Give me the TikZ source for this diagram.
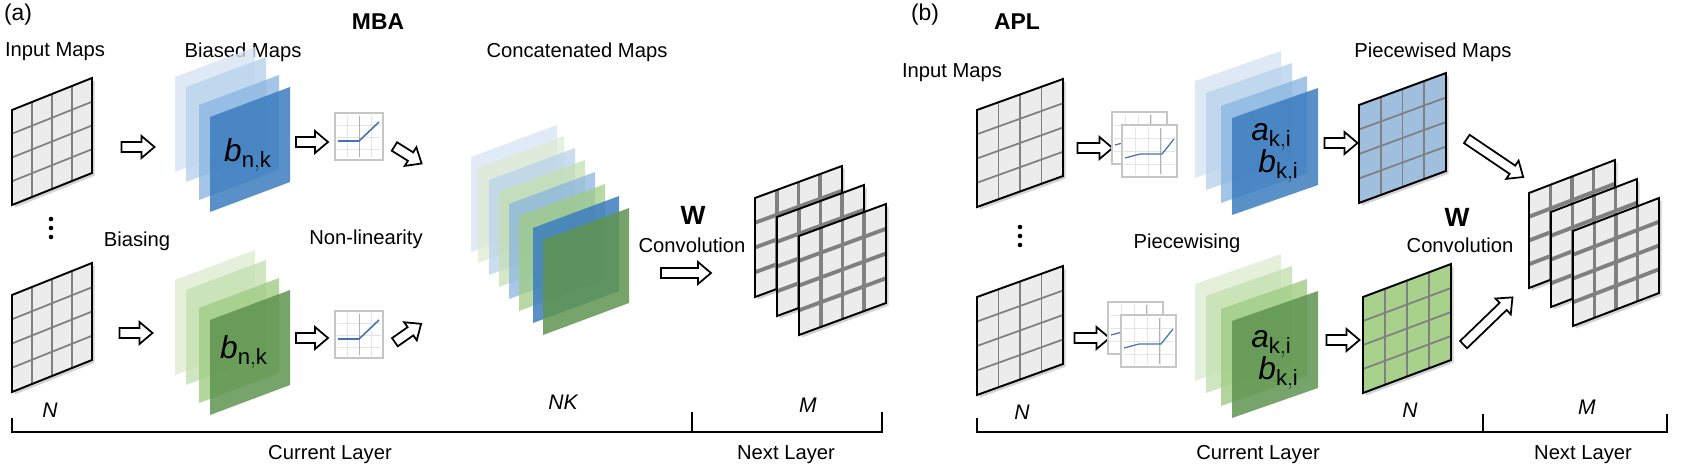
\documentclass[tikz,border=0pt]{standalone}
\usepackage{fontspec}
\setmainfont{Liberation Sans}
\usetikzlibrary{shadows}
\definecolor{gridfill}{RGB}{236,236,236}
\definecolor{bluefill}{RGB}{160,190,222}
\definecolor{greenfill}{RGB}{168,210,140}
\definecolor{blA}{RGB}{215,228,244}
\definecolor{blB}{RGB}{185,210,236}
\definecolor{blC}{RGB}{140,182,225}
\definecolor{blD}{RGB}{60,125,190}
\definecolor{grA}{RGB}{222,236,210}
\definecolor{grB}{RGB}{196,224,176}
\definecolor{grC}{RGB}{160,204,132}
\definecolor{grD}{RGB}{95,148,80}
\definecolor{plotblue}{RGB}{70,115,180}

% parallelogram: x, y (bottom-left, px), width, height, slant, style
\newcommand{\pgon}[6]{\path[#6] (#1,#2) -- ++(0,-#4) -- ++(#3,-#5) -- ++(0,#4) -- cycle;}
% grid map: x, y, w, h, s, fill, grid line width
\newcommand{\gmap}[7]{%
  \pgon{#1}{#2}{#3}{#4}{#5}{fill=#6, drop shadow={opacity=0.35,shadow xshift=1.5pt,shadow yshift=-1.5pt}}
  \foreach \t in {0.25,0.5,0.75}{
    \draw[gray, line width=#7] (#1+\t*#3,#2-\t*#5) -- ++(0,-#4);
    \draw[gray, line width=#7] (#1,#2-\t*#4) -- ++(#3,-#5);
  }
  \pgon{#1}{#2}{#3}{#4}{#5}{draw=black, line width=1.1pt, line join=miter}}
% relu plot: top-left x, y
\newcommand{\reluplot}[2]{%
  \path[fill=white, draw=gray!45, line width=1.2pt] (#1,#2) rectangle ++(48,47);
  \foreach \u in {12,24,36}{\draw[gray!20, line width=0.3pt] (#1+\u,#2+2) -- ++(0,43); \draw[gray!20, line width=0.3pt] (#1+2,#2+\u) -- ++(44,0);}
  \draw[gray!60, line width=0.3pt] (#1+24,#2+3) -- ++(0,41);
  \draw[plotblue, line width=0.9pt] (#1+3,#2+28) -- (#1+24,#2+28) -- (#1+44,#2+9);}
% piecewise plot: top-left x, y
\newcommand{\pwplot}[2]{%
  \path[fill=white, draw=gray!45, line width=1.2pt] (#1,#2) rectangle ++(55,52);
  \foreach \u in {13,26,39}{\draw[gray!20, line width=0.3pt] (#1+\u,#2+2) -- ++(0,48); \draw[gray!20, line width=0.3pt] (#1+2,#2+\u) -- ++(51,0);}
  \draw[gray!60, line width=0.3pt] (#1+38,#2+3) -- ++(0,46);
  \draw[plotblue, line width=0.7pt] (#1+3,#2+33) -- (#1+18,#2+29) -- (#1+40,#2+29) -- (#1+52,#2+14);}
% hollow block arrow: name, centre x, y, angle, length
\newcommand{\harr}[5]{%
  \coordinate (#1) at (#2,#3);
  \begin{scope}[shift={(#1)}, rotate=#4]
    \draw[harrow] (-#5/2,-5) -- (#5/2-13,-5) -- (#5/2-13,-11) -- (#5/2,0) -- (#5/2-13,11)
      -- (#5/2-13,5) -- (-#5/2,5) -- cycle;
  \end{scope}}
% vertical dots
\newcommand{\vdot}[3]{\foreach \k in {0,1,2}{\fill (#2,#3+\k*9) circle (2.3);}\coordinate (#1) at (#2,#3+9);}

\tikzset{
  lbl/.style={inner sep=0pt, font=\fontsize{11.5}{13}\selectfont},
  ital/.style={inner sep=0pt, font=\fontsize{12}{13}\selectfont\itshape},
  ttl/.style={inner sep=0pt, font=\fontsize{13}{15}\selectfont\bfseries},
  wlbl/.style={inner sep=0pt, font=\fontsize{15}{16}\selectfont\bfseries},
  coef/.style={inner sep=0pt, font=\fontsize{18}{19}\selectfont, align=left},
  harrow/.style={draw=black, fill=white, line width=1pt, line join=miter},
  brk/.style={line width=1pt},
}

\begin{document}
\begin{tikzpicture}[x=0.02cm, y=-0.02cm]
\useasboundingbox (0,0) rectangle (1683,470);

% ================= (a) MBA =================
\node[lbl, font=\fontsize{13}{15}\selectfont] (la) at (18,15) {(a)};
\node[ttl] (mba) at (378,22) {MBA};
\node[lbl] (inA) at (55,52) {Input Maps};
\node[lbl] (biasedA) at (243,52) {Biased Maps};
\node[lbl] (concA) at (577,52) {Concatenated Maps};

\gmap{12}{205}{80}{95}{32}{gridfill}{1pt}
\gmap{12}{392}{80}{97}{32}{gridfill}{1pt}
\vdot{dotsA}{51}{219}

% biased stacks
\pgon{175}{172}{80}{95}{30}{fill=blA, fill opacity=0.8}
\pgon{186}{182}{80}{95}{30}{fill=blB, fill opacity=0.8}
\pgon{199}{200}{80}{95}{30}{fill=blC, fill opacity=0.8}
\pgon{210}{212}{80}{95}{30}{fill=blD, fill opacity=0.85}
\pgon{175}{375}{80}{95}{30}{fill=grA, fill opacity=0.8}
\pgon{186}{385}{80}{95}{30}{fill=grB, fill opacity=0.8}
\pgon{199}{403}{80}{95}{30}{fill=grC, fill opacity=0.8}
\pgon{210}{415}{80}{95}{30}{fill=grD, fill opacity=0.85}
\node[coef] (bA1) at (248,155) {$\mathit{b}_{\mathrm{n,k}}$};
\node[coef] (bA2) at (244,352) {$\mathit{b}_{\mathrm{n,k}}$};

\reluplot{335}{113}
\reluplot{335}{311}

\node[lbl] (biasing) at (137,241) {Biasing};
\node[lbl] (nonlin) at (366,239) {Non-linearity};

\harr{a1}{138}{147}{0}{33}
\harr{a2}{136}{333}{0}{33}
\harr{a3}{312}{142}{0}{32}
\harr{a4}{312}{338}{0}{32}
\harr{a5}{408}{155}{-32}{32}
\harr{a6}{408}{333}{35}{32}

% concatenated stack
\pgon{471}{252}{86}{95}{32}{fill=blA, fill opacity=0.75}
\pgon{478}{263}{86}{95}{32}{fill=grA, fill opacity=0.75}
\pgon{489}{275}{86}{95}{32}{fill=blB, fill opacity=0.75}
\pgon{499}{287}{86}{95}{32}{fill=grB, fill opacity=0.75}
\pgon{509}{299}{86}{95}{32}{fill=blC, fill opacity=0.75}
\pgon{519}{311}{86}{95}{32}{fill=grC, fill opacity=0.75}
\pgon{533}{323}{86}{95}{32}{fill=blD, fill opacity=0.85}
\pgon{543}{335}{86}{95}{32}{fill=grD, fill opacity=0.85}

\node[wlbl] (wA) at (693,215) {W};
\node[lbl] (convA) at (692,245) {Convolution};
\harr{a7}{686}{273}{0}{50}

\gmap{755}{297}{87}{99}{32}{gridfill}{2.2pt}
\gmap{777}{316}{87}{99}{32}{gridfill}{2.2pt}
\gmap{799}{335}{87}{99}{32}{gridfill}{2.2pt}

\node[ital] (nA) at (50,410) {N};
\node[ital] (nkA) at (563,402) {NK};
\node[ital] (mA) at (808,405) {M};
\draw[brk] (12,418) -- (12,432) -- (882,432) -- (882,412);
\draw[brk] (692,412) -- (692,432);
\node[lbl] (curA) at (330,455) {Current Layer};
\node[lbl] (nextA) at (786,455) {Next Layer};

% ================= (b) APL =================
\node[lbl, font=\fontsize{13}{15}\selectfont] (lb) at (925,15) {(b)};
\node[ttl] (apl) at (1017,22) {APL};
\node[lbl] (inB) at (952,73) {Input Maps};
\node[lbl] (pwB) at (1433,52) {Piecewised Maps};

\gmap{977}{207}{86}{97}{31}{gridfill}{1pt}
\gmap{977}{395}{86}{98}{31}{gridfill}{1pt}
\vdot{dotsB}{1020}{227}

\harr{b1}{1095}{148}{0}{35}
\harr{b2}{1092}{338}{0}{35}

\pwplot{1112}{112}
\pwplot{1122}{125}
\pwplot{1108}{302}
\pwplot{1121}{315}

\pgon{1195}{178}{86}{97}{30}{fill=blA, fill opacity=0.8}
\pgon{1206}{190}{86}{97}{30}{fill=blB, fill opacity=0.8}
\pgon{1221}{203}{86}{97}{30}{fill=blC, fill opacity=0.8}
\pgon{1232}{215}{86}{97}{30}{fill=blD, fill opacity=0.85}
\pgon{1195}{381}{86}{97}{30}{fill=grA, fill opacity=0.8}
\pgon{1206}{393}{86}{97}{30}{fill=grB, fill opacity=0.8}
\pgon{1221}{406}{86}{97}{30}{fill=grC, fill opacity=0.8}
\pgon{1232}{418}{86}{97}{30}{fill=grD, fill opacity=0.85}
\node[coef] (abB1) at (1275,153) {$\mathit{a}_{\mathrm{k,i}}$\\[-1pt]\hspace*{4pt}$\mathit{b}_{\mathrm{k,i}}$};
\node[coef] (abB2) at (1275,360) {$\mathit{a}_{\mathrm{k,i}}$\\[-1pt]\hspace*{4pt}$\mathit{b}_{\mathrm{k,i}}$};

\harr{b3}{1341}{143}{0}{33}
\harr{b4}{1343}{340}{0}{33}

\gmap{1359}{203}{87}{98}{32}{bluefill}{1pt}
\gmap{1363}{393}{88}{96}{33}{greenfill}{1pt}

\node[lbl] (pwing) at (1187,243) {Piecewising};
\node[wlbl] (wB) at (1457,217) {W};
\node[lbl] (convB) at (1460,245) {Convolution};

\harr{b5}{1495}{158}{-34}{68}
\harr{b6}{1488}{321}{44}{68}

\gmap{1529}{288}{86}{95}{33}{gridfill}{2.2pt}
\gmap{1551}{307}{86}{95}{33}{gridfill}{2.2pt}
\gmap{1573}{326}{86}{95}{33}{gridfill}{2.2pt}

\node[ital] (nB1) at (1022,412) {N};
\node[ital] (nB2) at (1410,410) {N};
\node[ital] (mB) at (1587,407) {M};
\draw[brk] (977,418) -- (977,432) -- (1667,432) -- (1667,414);
\draw[brk] (1483,414) -- (1483,432);
\node[lbl] (curB) at (1258,455) {Current Layer};
\node[lbl] (nextB) at (1583,455) {Next Layer};
\end{tikzpicture}
\end{document}
